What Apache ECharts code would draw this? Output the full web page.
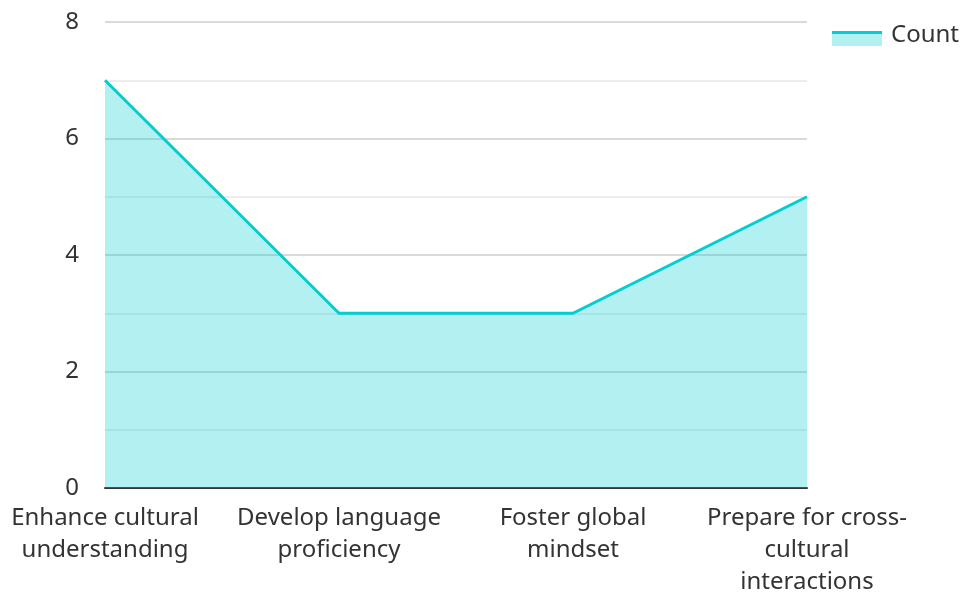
<!DOCTYPE html>
<html>
<head>
<meta charset="utf-8">
<script src="https://cdn.jsdelivr.net/npm/echarts@6/dist/echarts.min.js"></script>
<style>
  html, body { margin: 0; padding: 0; background: #fff; }
  #chart { width: 964px; height: 592px; }
</style>
</head>
<body>
<div id="chart"></div>
<script>
// Chart data
const categories = [
  'Enhance cultural\nunderstanding',
  'Develop language\nproficiency',
  'Foster global\nmindset',
  'Prepare for cross-\ncultural\ninteractions'
];
const countValues = [7, 3, 3, 5];
const seriesName = 'Count';

const LINE_COLOR = '#00CED1';
const AREA_COLOR = 'rgba(0, 206, 209, 0.3)';
const FONT = '"Noto Sans", sans-serif';

const chart = echarts.init(document.getElementById('chart'));

const option = {
  backgroundColor: '#fff',
  textStyle: { fontFamily: FONT },
  animation: false,
  grid: {
    left: 105,
    right: 157,
    top: 22,
    bottom: 104,
    containLabel: false,
    outerBoundsMode: 'none'
  },
  legend: {
    data: [seriesName],
    left: 832,
    top: 23,
    padding: 0,
    icon: 'rect',
    itemWidth: 50,
    itemHeight: 15,
    // swatch itself is drawn by the graphic below
    itemStyle: { color: 'transparent' },
    textStyle: {
      fontSize: 24,
      color: '#333',
      fontFamily: FONT,
      padding: [0, 0, 0, 4]
    }
  },
  xAxis: {
    type: 'category',
    data: categories,
    boundaryGap: false,
    axisLine: { lineStyle: { color: '#333', width: 2 } },
    axisTick: { show: false },
    axisLabel: {
      color: '#333',
      fontSize: 24,
      lineHeight: 32,
      margin: 14,
      interval: 0,
      align: 'center'
    },
    splitLine: { show: false }
  },
  yAxis: {
    type: 'value',
    min: 0,
    max: 8,
    interval: 2,
    axisLine: { show: false },
    axisTick: { show: false },
    axisLabel: { color: '#333', fontSize: 24, margin: 26 },
    splitLine: { lineStyle: { color: '#cccccc', width: 1.5 } },
    minorTick: { show: false, splitNumber: 2 },
    minorSplitLine: { show: true, lineStyle: { color: '#e8e8e8', width: 1.5 } }
  },
  series: [{
    name: seriesName,
    type: 'line',
    data: countValues,
    showSymbol: false,
    symbol: 'none',
    lineStyle: { color: LINE_COLOR, width: 3 },
    itemStyle: { color: LINE_COLOR },
    areaStyle: { color: LINE_COLOR, opacity: 0.3 }
  }],
  graphic: [{
    // legend swatch: area part
    type: 'rect',
    left: 832,
    top: 31,
    shape: { width: 50, height: 15 },
    style: { fill: AREA_COLOR },
    z: 100
  }, {
    // legend swatch: line part
    type: 'rect',
    left: 832,
    top: 31,
    shape: { width: 50, height: 3 },
    style: { fill: LINE_COLOR },
    z: 101
  }]
};

chart.setOption(option);
window.addEventListener('resize', () => chart.resize());
</script>
</body>
</html>
